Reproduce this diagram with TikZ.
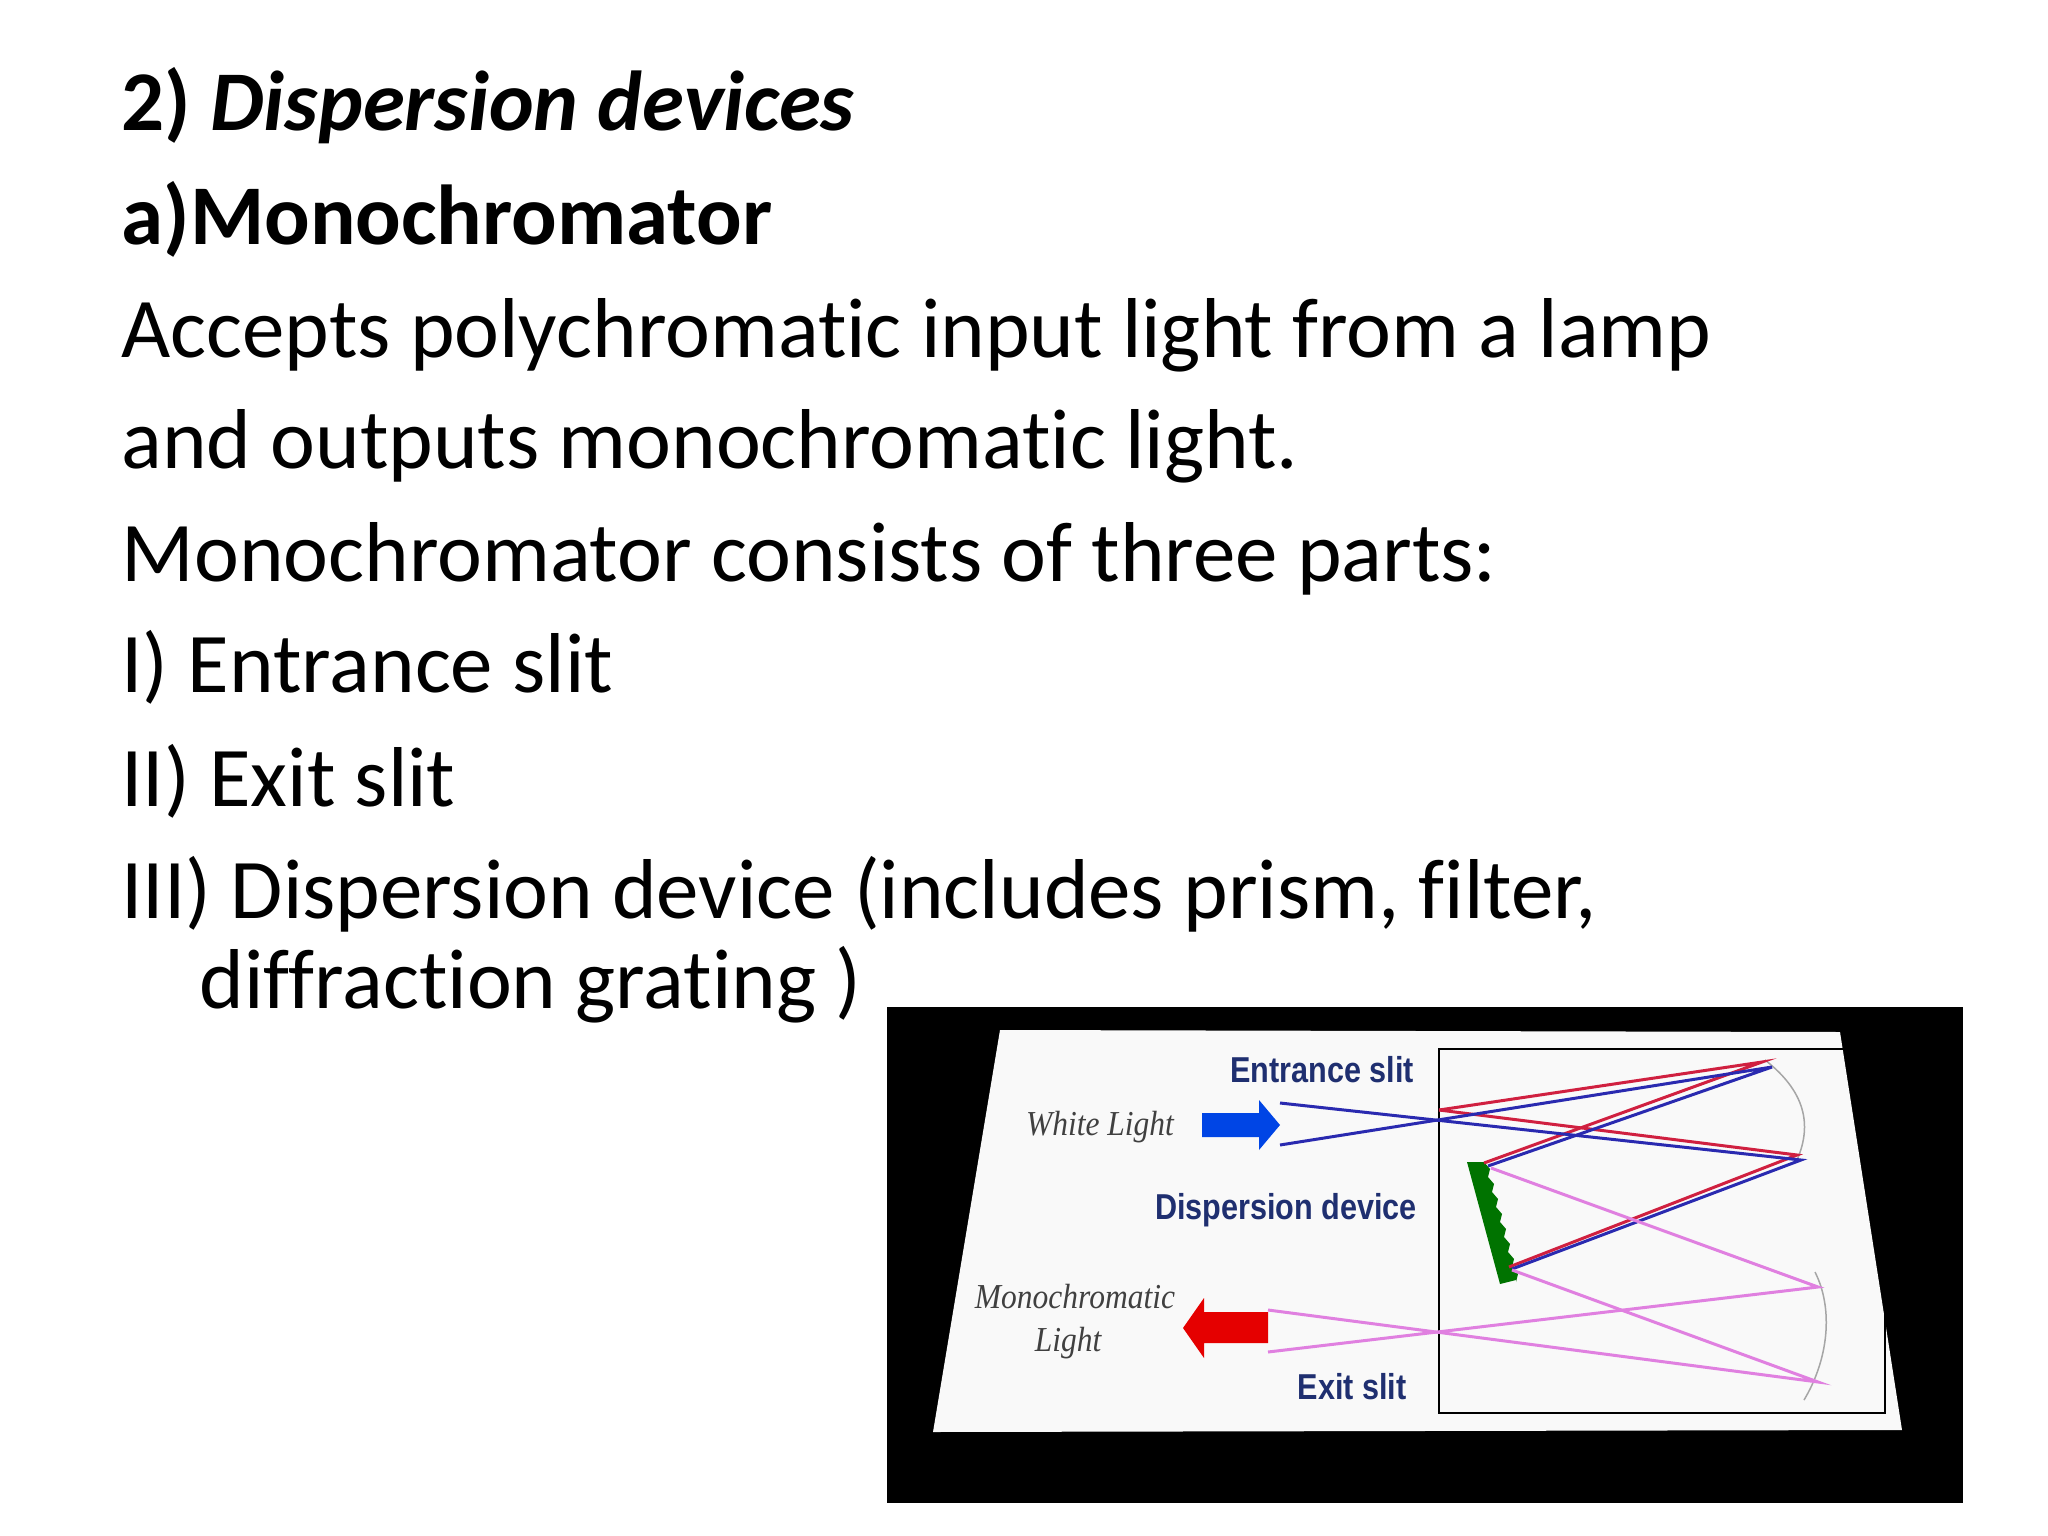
\documentclass[tikz,border=0pt]{standalone}
\usepackage{fontspec}
\setmainfont[Ligatures={NoCommon}]{Carlito}
\newfontfamily\lsans{Liberation Sans}
\newfontfamily\lserif{Liberation Serif}
\begin{document}
\begin{tikzpicture}[x=1pt,y=-1pt]
\definecolor{navy}{HTML}{1F2F70}
\definecolor{rayblue}{HTML}{2A2AB0}
\definecolor{rayred}{HTML}{D02040}
\definecolor{raymag}{HTML}{E080E0}
\tikzset{
 line/.style={anchor=base west,font=\fontsize{85}{85}\selectfont},
 lab/.style={font=\lsans\bfseries\fontsize{36}{36}\selectfont,text=navy,xscale=0.85},
 ital/.style={font=\lserif\itshape\fontsize{35}{35}\selectfont,text=black!75,xscale=0.9},
 ray/.style={line width=3pt}
}
\useasboundingbox (0,0) rectangle (2048,1536);
\fill[white] (0,0) rectangle (2048,1536);
\node[line] (t1) at (118,131) {\textbf{2) \textit{Dispersion devices}}};
\node[line] (t2) at (118,244) {\textbf{a)Monochromator}};
\node[line] (t3) at (118,357) {Accepts polychromatic input light from a lamp};
\node[line] (t4) at (118,468) {and outputs monochromatic light.};
\node[line] (t5) at (118,581) {Monochromator consists of three parts:};
\node[line] (t6) at (118,692) {I) Entrance slit};
\node[line] (t7) at (118,806) {II) Exit slit};
\node[line] (t8) at (118,918) {III) Dispersion device (includes prism, filter,};
\node[line] (t9) at (196,1008) {diffraction grating )};
% figure
\fill[black] (887,1007) rectangle (1963,1503);
\fill[white!95!gray] (1000,1030) -- (1840,1032) -- (1902,1430) -- (933,1432) -- cycle;
\draw[line width=2pt] (1439,1049) rectangle (1885,1413);
% mirrors
\draw[gray!70,line width=1.5pt] (1765,1060) .. controls (1810,1095) and (1810,1130) .. (1797,1160);
\draw[gray!70,line width=1.5pt] (1815,1272) .. controls (1834,1310) and (1828,1360) .. (1804,1400);
% grating
\fill[green!45!black] (1467,1162) -- (1484,1162)
 \foreach \i in {1,...,8} { -- ++(6,7) -- ++(-2,8) } -- (1516,1280) -- (1500,1284) -- cycle;
% rays
\coordinate (es) at (1439,1110);
\coordinate (xs) at (1440,1332);
\draw[ray,rayred] (es) -- (1762,1062) -- (1484,1163);
\draw[ray,rayred] (es) -- (1797,1155) -- (1509,1267);
\draw[ray,rayblue] (1280,1103) -- (1801,1160) -- (1512,1269);
\draw[ray,rayblue] (1280,1145) -- (1772,1067) -- (1488,1166);
\draw[ray,raymag] (1491,1168) -- (1818,1287) -- (1268,1352);
\draw[ray,raymag] (1512,1270) -- (1818,1382) -- (1268,1310);
% arrows
\fill[blue!70!cyan!90!black] (1202,1113) -- (1259,1113) -- (1259,1100) -- (1280,1125) -- (1259,1150) -- (1259,1137) -- (1202,1137) -- cycle;
\fill[red!90!black] (1268,1312) -- (1204,1312) -- (1204,1298) -- (1183,1328) -- (1204,1358) -- (1204,1343) -- (1268,1343) -- cycle;
% labels
\node[lab] (le) at (1322,1070) {Entrance slit};
\node[lab] (ld) at (1286,1210) {Dispersion device};
\node[lab] (lx) at (1352,1387) {Exit slit};
\node[ital] (lw) at (1100,1127) {White Light};
\node[ital] (lm) at (1075,1297) {Monochromatic};
\node[ital] (ll) at (1068,1343) {Light};
\end{tikzpicture}
\end{document}
